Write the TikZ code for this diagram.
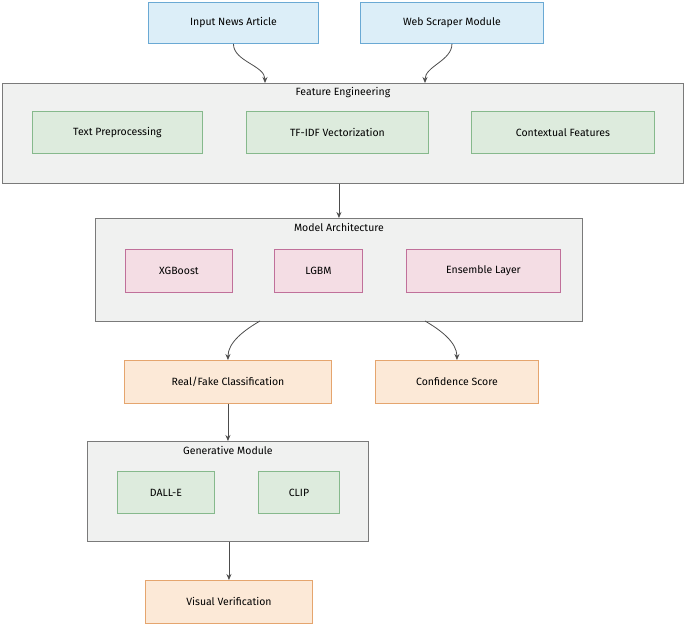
\documentclass[tikz,border=0pt]{standalone}
\usepackage{fontspec}
\setmainfont{Fira Sans}
\usetikzlibrary{calc,arrows.meta}
\definecolor{bF}{HTML}{DCEEF8}\definecolor{bD}{HTML}{6AA9D4}
\definecolor{gF}{HTML}{DDEBDD}\definecolor{gD}{HTML}{86B98C}
\definecolor{pF}{HTML}{F4DDE4}\definecolor{pD}{HTML}{C0709A}
\definecolor{oF}{HTML}{FCE9D7}\definecolor{oD}{HTML}{E5A56E}
\definecolor{cF}{HTML}{F0F1F0}\definecolor{cD}{HTML}{7A7A7A}
\begin{document}
\begin{tikzpicture}[x=1pt,y=1pt,font=\fontsize{10.5}{12}\selectfont,
 box/.style={draw,line width=0.9pt,inner sep=0pt,anchor=north west},
 blu/.style={box,fill=bF,draw=bD},
 grn/.style={box,fill=gF,draw=gD},
 pnk/.style={box,fill=pF,draw=pD},
 org/.style={box,fill=oF,draw=oD},
 clu/.style={box,fill=cF,draw=cD},
 ttl/.style={anchor=north,inner sep=0pt},
 arr/.style={draw=black!70,line width=0.8pt,-{Stealth[length=6pt,width=5pt]}}]
\useasboundingbox (0,0) rectangle (685,-624);
\newcommand{\bx}[7]{\node[#1,minimum width=#4-#2,minimum height=#5-#3] (#6) at (#2,-#3) {};
 \node at (#6.center) {#7};}
\bx{blu}{148}{2}{318}{43}{inp}{Input News Article}
\bx{blu}{360}{2}{543}{43}{web}{Web Scraper Module}
\node[clu,minimum width=681,minimum height=100] (fe) at (2,-83) {};
\node[ttl] (fet) at ($(fe.north)+(0,-4)$) {Feature Engineering};
\bx{grn}{32}{111}{202}{153}{tp}{Text Preprocessing}
\bx{grn}{246}{111}{428}{153}{tf}{TF-IDF Vectorization}
\bx{grn}{471}{111}{654}{153}{cf}{Contextual Features}
\node[clu,minimum width=487,minimum height=103] (ma) at (95,-218) {};
\node[ttl] (mat) at ($(ma.north)+(0,-5)$) {Model Architecture};
\bx{pnk}{125}{249}{232}{292}{xg}{XGBoost}
\bx{pnk}{274}{249}{362}{292}{lg}{LGBM}
\bx{pnk}{406}{249}{560}{292}{en}{Ensemble Layer}
\bx{org}{124}{360}{331}{403}{rf}{Real/Fake Classification}
\bx{org}{375}{360}{538}{403}{cs}{Confidence Score}
\node[clu,minimum width=281,minimum height=100] (gm) at (87,-441) {};
\node[ttl] (gmt) at ($(gm.north)+(0,-5)$) {Generative Module};
\bx{grn}{117}{471}{214}{513}{da}{DALL-E}
\bx{grn}{258}{471}{339}{513}{cl}{CLIP}
\bx{org}{145}{580}{312}{623}{vv}{Visual Verification}
\coordinate (fa) at (265,-83); \coordinate (fb) at (425,-83);
\coordinate (ma1) at (260,-321); \coordinate (ma2) at (425,-321);
\draw[arr] (inp.south) to[out=-90,in=90,looseness=0.9] (fa);
\draw[arr] (web.south) to[out=-90,in=90,looseness=0.9] (fb);
\draw[arr] (fe.south -| ma.north) -- (ma.north);
\draw[arr] (ma1) to[out=-150,in=90,looseness=0.9] (rf.north);
\draw[arr] (ma2) to[out=-30,in=90,looseness=0.9] (cs.north);
\draw[arr] (rf.south) -- (rf.south |- gm.north);
\draw[arr] (vv.north |- gm.south) -- (vv.north);
\end{tikzpicture}
\end{document}
